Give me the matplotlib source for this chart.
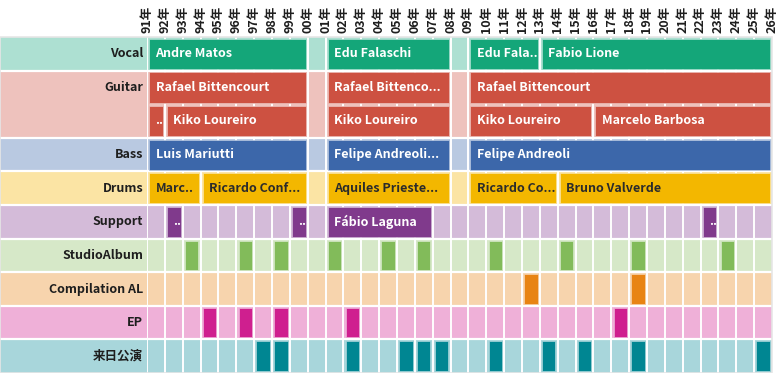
import matplotlib
matplotlib.use('Agg')
import matplotlib.pyplot as plt
from matplotlib.patches import Rectangle

plt.rcParams['font.family'] = ['Noto Sans CJK JP', 'DejaVu Sans']

# ---------------- data ----------------
first_year = 1991
last_year = 2026
tick_years = list(range(1991, 2027))
tick_labels = ["91年", "92年", "93年", "94年", "95年", "96年", "97年", "98年", "99年", "00年",
               "01年", "02年", "03年", "04年", "05年", "06年", "07年", "08年", "09年", "10年",
               "11年", "12年", "13年", "14年", "15年", "16年", "17年", "18年", "19年", "20年",
               "21年", "22年", "23年", "24年", "25年", "26年"]

row_labels = ["Vocal", "Guitar", "Bass", "Drums", "Support",
              "StudioAlbum", "Compilation AL", "EP", "来日公演"]
row_sub_counts = [1, 2, 1, 1, 1, 1, 1, 1, 1]
bar_colors = ["#14a679", "#cd5141", "#3c67aa", "#f3b700", "#803a8c",
              "#82bb5a", "#e88413", "#cf1f8f", "#008692"]
bg_colors = ["#ade0d2", "#eec2bd", "#b9c9e1", "#fbe4a4", "#d4bbd9",
             "#d6e8c8", "#f7d4ad", "#efb0d8", "#a8d6db"]
text_colors = ["white", "white", "white", "#2b2b2b", "white"]

vocal_names = ["Andre Matos", "Edu Falaschi", "Edu Fala..", "Fabio Lione"]
vocal_start = [1991, 2001, 2009, 2013]
vocal_end = [2000, 2008, 2013, 2026]

guitar1_names = ["Rafael Bittencourt", "Rafael Bittenco...", "Rafael Bittencourt"]
guitar1_start = [1991, 2001, 2009]
guitar1_end = [2000, 2008, 2026]

guitar2_names = ["..", "Kiko Loureiro", "Kiko Loureiro", "Kiko Loureiro", "Marcelo Barbosa"]
guitar2_start = [1991, 1992, 2001, 2009, 2016]
guitar2_end = [1992, 2000, 2008, 2016, 2026]

bass_names = ["Luis Mariutti", "Felipe Andreoli...", "Felipe Andreoli"]
bass_start = [1991, 2001, 2009]
bass_end = [2000, 2008, 2026]

drums_names = ["Marc..", "Ricardo Conf...", "Aquiles Prieste...", "Ricardo Co...", "Bruno Valverde"]
drums_start = [1991, 1994, 2001, 2009, 2014]
drums_end = [1994, 2000, 2008, 2014, 2026]

support_names = ["..", "..", "Fábio Laguna", ".."]
support_start = [1992, 1999, 2001, 2022]
support_end = [1993, 2000, 2007, 2023]

studio_album_years = [1993, 1996, 1998, 2001, 2004, 2006, 2010, 2014, 2018, 2023]
compilation_years = [2012, 2018]
ep_years = [1994, 1996, 1998, 2002, 2017]
japan_tour_years = [1997, 1998, 2002, 2005, 2006, 2007, 2010, 2013, 2015, 2018, 2025]

# --------------- figure ---------------
W, H = 778, 373
fig = plt.figure(figsize=(W / 100, H / 100), dpi=100)
fig.patch.set_facecolor('white')
left_px, right_px, top_px = 147, 772, 37
ax = fig.add_axes([left_px / W, 0, (right_px - left_px) / W, (H - top_px) / H])
ax.set_xlim(first_year, last_year)
n_sub = sum(row_sub_counts)
ax.set_ylim(n_sub, 0)
ax.axis('off')

px_per_year = (right_px - left_px) / (last_year - first_year)
px_per_row = (H - top_px) / n_sub
x0 = first_year - left_px / px_per_year

row_tops = []
acc = 0
for c in row_sub_counts:
    row_tops.append(acc)
    acc += c

# row backgrounds (label column + plot)
for i, (top, cnt) in enumerate(zip(row_tops, row_sub_counts)):
    ax.add_patch(Rectangle((x0, top), last_year - x0, cnt, facecolor=bg_colors[i],
                           edgecolor='none', clip_on=False, zorder=0))
    ax.text(first_year - 4 / px_per_year, top + 0.5, row_labels[i], ha='right', va='center',
            fontsize=9, fontweight='bold', color='#1e1e1e', zorder=4)

# grid lines
ax.vlines(tick_years[:-1], 0, n_sub, colors='white', linewidth=1.4, zorder=1)
ax.hlines(row_tops[1:], x0, last_year, colors='white', linewidth=1.6, zorder=1,
          clip_on=False)
ax.add_patch(Rectangle((x0, 0), last_year - x0, n_sub, fill=False, edgecolor='#e6e6e6',
                       linewidth=1.2, clip_on=False, zorder=5))

pad_x = 2 / px_per_year
pad_y = 1.7 / px_per_row


def draw_spans(sub_row, names, starts, ends, color_idx):
    for nm, s, e in zip(names, starts, ends):
        ax.add_patch(Rectangle((s + pad_x, sub_row + pad_y), e - s - 2 * pad_x, 1 - 2 * pad_y,
                               facecolor=bar_colors[color_idx], edgecolor=bg_colors[color_idx],
                               linewidth=0.5, zorder=2))
        ax.text(s + pad_x + 6.5 / px_per_year, sub_row + 0.5, nm, ha='left', va='center',
                fontsize=9, fontweight='bold', color=text_colors[color_idx], zorder=3)


draw_spans(0, vocal_names, vocal_start, vocal_end, 0)
draw_spans(1, guitar1_names, guitar1_start, guitar1_end, 1)
draw_spans(2, guitar2_names, guitar2_start, guitar2_end, 1)
draw_spans(3, bass_names, bass_start, bass_end, 2)
draw_spans(4, drums_names, drums_start, drums_end, 3)
draw_spans(5, support_names, support_start, support_end, 4)


def draw_cells(sub_row, years, color_idx):
    px = 2.3 / px_per_year
    py = 2.0 / px_per_row
    for y in years:
        ax.add_patch(Rectangle((y + px, sub_row + py), 1 - 2 * px, 1 - 2 * py,
                               facecolor=bar_colors[color_idx], edgecolor=bg_colors[color_idx],
                               linewidth=0.5, zorder=2))


draw_cells(6, studio_album_years, 5)
draw_cells(7, compilation_years, 6)
draw_cells(8, ep_years, 7)
draw_cells(9, japan_tour_years, 8)

# top tick labels
for yr, lab in zip(tick_years, tick_labels):
    ax.text(yr, -4 / px_per_row, lab, rotation=90, ha='center', va='bottom',
            fontsize=9, fontweight='bold', color='#1e1e1e', clip_on=False)

fig.savefig('out.png', dpi=100, facecolor='white')
